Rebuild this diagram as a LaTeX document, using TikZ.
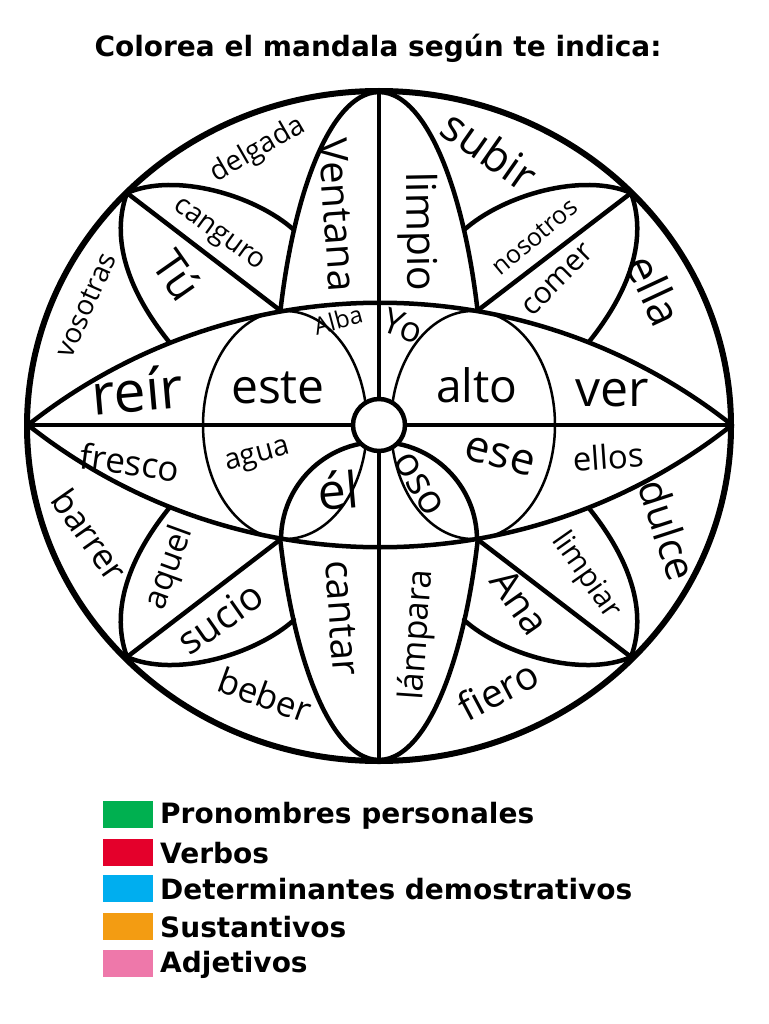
\documentclass[tikz,border=0pt]{standalone}
\usepackage{fontspec}
\setmainfont{DejaVu Sans}
\newfontfamily\mw{Open Sans}
\definecolor{cgreen}{RGB}{0,176,80}
\definecolor{cred}{RGB}{228,0,43}
\definecolor{cblue}{RGB}{0,174,239}
\definecolor{corange}{RGB}{243,156,18}
\definecolor{cpink}{RGB}{238,120,170}
\tikzset{
  thickl/.style={line width=4.5pt, line join=round, line cap=round},
  thinl/.style={line width=2.5pt},
  w/.style={font=\mw\fontsize{#1}{#1}\selectfont, inner sep=0pt},
  leg/.style={font=\bfseries\fontsize{28}{28}\selectfont, anchor=west, inner sep=0pt},
  sw/.style={minimum width=50pt, minimum height=27pt, inner sep=0pt}
}
\begin{document}
\begin{tikzpicture}[x=1pt,y=-1pt]
\useasboundingbox (0,0) rectangle (768,1024);
% outer and vertical lens
\draw[line width=6pt] (379,426) ellipse [x radius=352pt, y radius=335pt];
\draw[thickl] (379,426) ellipse [x radius=105pt, y radius=334pt];
% intersection coordinates
\coordinate (TL) at (281,311); \coordinate (TR) at (477,311);
\coordinate (BL) at (281,539); \coordinate (BR) at (477,539);
\coordinate (A1) at (127,193); \coordinate (A2) at (631,193);
\coordinate (A3) at (127,657); \coordinate (A4) at (631,657);
% diagonal petals
\draw[thickl] (A1) -- (TL);
\draw[thickl] (A1) .. controls (175,172) and (255,195) .. (294,230);
\draw[thickl] (A1) .. controls (108,245) and (135,300) .. (170,343);
\draw[thickl] (A2) -- (TR);
\draw[thickl] (A2) .. controls (583,172) and (503,195) .. (464,230);
\draw[thickl] (A2) .. controls (650,245) and (623,300) .. (588,343);
\draw[thickl] (A3) -- (BL);
\draw[thickl] (A3) .. controls (108,605) and (135,550) .. (170,507);
\draw[thickl] (A3) .. controls (175,678) and (255,655) .. (294,620);
\draw[thickl] (A4) -- (BR);
\draw[thickl] (A4) .. controls (650,605) and (623,550) .. (588,507);
\draw[thickl] (A4) .. controls (583,678) and (503,655) .. (464,620);
% horizontal lens
\filldraw[thickl, fill=white] (28,425) .. controls (234,262) and (526,262) .. (732,425) .. controls (526,588) and (234,588) .. cycle;
% inner circles
\draw[thinl] (285,425) ellipse [x radius=82pt, y radius=114pt];
\draw[thinl] (473,425) ellipse [x radius=82pt, y radius=114pt];
\begin{scope}
\clip (0,0) rectangle (768,539);
\draw[thickl] (379,540) circle [radius=98pt];
\end{scope}
% axes
\draw[thickl] (28,425) -- (730,425);
\draw[thickl] (379,92) -- (379,760);
\filldraw[thickl, fill=white] (379,425) circle [radius=26pt];
% words
\node[w=28, rotate=30] (t1) at (258,150) {delgada};
\node[w=28, rotate=-36] (t2) at (218,236) {canguro};
\node[w=44, rotate=-55] (t3) at (178,275) {Tú};
\node[w=28, rotate=66] (t4) at (86,305) {vosotras};
\node[w=40, rotate=-86] (t5) at (338,215) {Ventana};
\node[w=41, rotate=-89] (t6) at (418,232) {limpio};
\node[w=44, rotate=-35] (t7) at (490,150) {subir};
\node[w=25, rotate=40] (t8) at (535,237) {nosotros};
\node[w=30, rotate=45] (t9) at (558,280) {comer};
\node[w=44, rotate=-65] (t10) at (655,290) {ella};
\node[w=24, rotate=15] (t11) at (338,320) {Alba};
\node[w=35, rotate=-20] (t12) at (403,326) {Yo};
\node[w=57, rotate=5] (t13) at (137,390) {reír};
\node[w=48] (t14) at (278,388) {este};
\node[w=46] (t15) at (477,385) {alto};
\node[w=50] (t16) at (612,393) {ver};
\node[w=35, rotate=-8] (t17) at (130,462) {fresco};
\node[w=29, rotate=15] (t18) at (258,458) {agua};
\node[w=44, rotate=-15] (t19) at (500,456) {ese};
\node[w=33, rotate=4] (t20) at (608,457) {ellos};
\node[w=50, rotate=5] (t21) at (338,490) {él};
\node[w=40, rotate=-60] (t22) at (419,484) {oso};
\node[w=35, rotate=-55] (t23) at (90,535) {barrer};
\node[w=33, rotate=70] (t24) at (170,568) {aquel};
\node[w=39, rotate=35] (t25) at (220,618) {sucio};
\node[w=39, rotate=-86] (t26) at (342,618) {cantar};
\node[w=34, rotate=86] (t27) at (418,635) {lámpara};
\node[w=35, rotate=-20] (t28) at (265,695) {beber};
\node[w=30, rotate=-55] (t29) at (586,576) {limpiar};
\node[w=39, rotate=-55] (t30) at (520,602) {Ana};
\node[w=41, rotate=-72] (t31) at (668,530) {dulce};
\node[w=39, rotate=28] (t32) at (498,690) {fiero};
% title
\node[font=\bfseries\fontsize{28}{28}\selectfont, inner sep=0pt] (title) at (378,48) {Colorea el mandala según te indica:};
% legend
\node[sw, fill=cgreen] (s1) at (128,814) {};
\node[sw, fill=cred] (s2) at (128,852) {};
\node[sw, fill=cblue] (s3) at (128,888) {};
\node[sw, fill=corange] (s4) at (128,926) {};
\node[sw, fill=cpink] (s5) at (128,963) {};
\node[leg] (l1) at (160,816) {Pronombres personales};
\node[leg] (l2) at (160,853) {Verbos};
\node[leg] (l3) at (160,889) {Determinantes demostrativos};
\node[leg] (l4) at (160,927) {Sustantivos};
\node[leg] (l5) at (160,965) {Adjetivos};
\end{tikzpicture}
\end{document}
